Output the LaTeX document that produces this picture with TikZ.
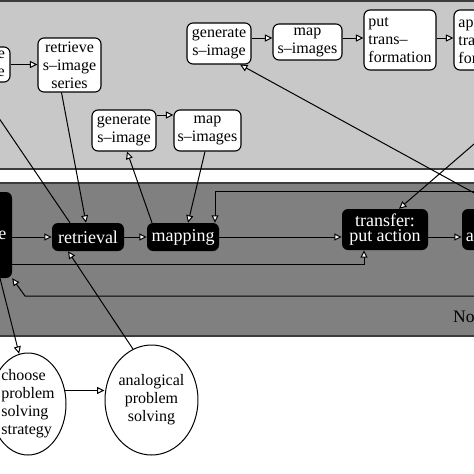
\documentclass[tikz,border=0pt]{standalone}
\usepackage{fontspec}
\setmainfont{Liberation Serif}
\usetikzlibrary{arrows.meta,shapes.geometric}
\definecolor{lightbg}{RGB}{200,200,200}
\definecolor{darkbg}{RGB}{128,128,128}
\definecolor{framec}{RGB}{60,60,60}
\begin{document}
\begin{tikzpicture}[x=1pt,y=-1pt,
  wbox/.style={draw=black, fill=white, rounded corners=6pt, line width=1.1pt, inner sep=0pt, align=center, font=\fontsize{16}{18}\selectfont},
  bbox/.style={fill=black, rounded corners=6pt, inner sep=0pt, align=center, text=white, font=\fontsize{18}{15}\selectfont},
  oval/.style={ellipse, draw=black, fill=white, line width=1pt, inner sep=0pt, align=center, font=\fontsize{16}{18}\selectfont},
  arr/.style={draw=black, line width=1pt, -{Triangle[length=7.5pt,width=7pt,fill=white]}}]
\useasboundingbox (0,0) rectangle (474,474);
\clip (0,0) rectangle (474,474);
\fill[white] (0,0) rectangle (474,474);
\draw[framec, line width=2.5pt, fill=lightbg] (-10,1) rectangle (490,169);
\draw[framec, line width=2pt, fill=darkbg] (-10,183) rectangle (490,336);

% upper region nodes
\node[wbox, minimum width=64pt, minimum height=35pt] (genL) at (-22,64.5) {generate\\s--image};
\node[wbox, minimum width=63pt, minimum height=54pt] (rser) at (69.5,65) {retrieve\\s--image\\series};
\node[wbox, minimum width=64pt, minimum height=41pt] (genM) at (124,130.5) {generate\\s--image};
\node[wbox, minimum width=67pt, minimum height=41pt] (mapM) at (207.5,130.5) {map\\s--images};
\node[wbox, minimum width=64pt, minimum height=41pt] (genU) at (219,43.5) {generate\\s--image};
\node[wbox, minimum width=69pt, minimum height=36pt] (mapU) at (307.5,42) {map\\s--images};
\node[wbox, minimum width=72pt, minimum height=60pt, align=left] (put) at (400,40) {put\\trans--\\formation};
\node[wbox, minimum width=72pt, minimum height=60pt, align=left] (apU) at (490,40) {apply\\trans--\\formation};

% dark region nodes
\node[bbox, minimum width=58pt, minimum height=86pt] (src) at (-17,235) {source};
\node[bbox, minimum width=72pt, minimum height=28pt] (retr) at (88,237) {retrieval};
\node[bbox, minimum width=72pt, minimum height=28pt] (mapg) at (183,237) {mapping};
\node[bbox, minimum width=86pt, minimum height=41pt] (trans) at (385,229.5) {transfer:\\put action};
\node[bbox, minimum width=96pt, minimum height=41pt] (appl) at (510,229.5) {transfer:\\apply action};
\node[anchor=base west, inner sep=0pt, font=\fontsize{17.5}{20}\selectfont] (nolab) at (453,322) {No};

% lower ellipses
\node[oval, align=left, minimum width=76pt, minimum height=102pt] (choose) at (28,404) {choose\\problem\\solving\\strategy};
\node[oval, minimum width=91pt, minimum height=110pt] (ana) at (151.5,400) {analogical\\problem\\solving};

% off-picture ends
\coordinate (offL) at (-12,102);
\coordinate (offR1) at (490,191);
\coordinate (offR2) at (490,296);
\coordinate (offR4) at (510,113);

% connectors, upper region
\draw[arr] (genL.east) -- (genL.east -| rser.west);
\draw[arr] (genM.east |- 0,115) -- (mapM.west |- 0,115);
\draw[arr] (genU.east |- 0,38) -- (mapU.west |- 0,38);
\draw[arr] (mapU.east |- 0,38) -- (put.west |- 0,38);
\draw[arr] (put.east |- 0,38) -- (apU.west |- 0,38);

% connectors between regions
\draw[arr] ([xshift=-8pt]rser.south) -- ([xshift=-2pt]retr.north);
\draw[arr] ([xshift=-31pt]mapg.north) -- ([xshift=3pt]genM.south);
\draw[arr] ([xshift=-2.5pt]mapM.south) -- ([xshift=5pt]mapg.north);
\draw[arr] ([xshift=-7pt]appl.north) -- ([xshift=21pt]genU.south);
\draw[arr] (offR4) -- ([xshift=14pt]trans.north);
\draw[arr] ([xshift=-18pt]retr.north) -- (offL);

% connectors, dark region
\draw[arr] (offR1) -| ([xshift=32pt]mapg.north);
\draw[arr] (src.east |- retr) -- (retr.west);
\draw[arr] (retr.east) -- (mapg.west);
\draw[arr] (mapg.east) -- (mapg.east -| trans.west);
\draw[arr] (trans.east |- mapg) -- (appl.west |- mapg);
\draw[arr] (src.east |- 0,264) -| ([xshift=-21pt]trans.south);
\draw[arr] (offR2) -- (25,296) -- (src.south east);

% connectors to the ellipses
\draw[arr] ([xshift=17pt]src.south) -- (choose.100);
\draw[arr] (ana.110) -- ([xshift=-20pt]retr.south);
\draw[arr] (choose.20) -- (choose.20 -| ana.west);
\end{tikzpicture}
\end{document}
